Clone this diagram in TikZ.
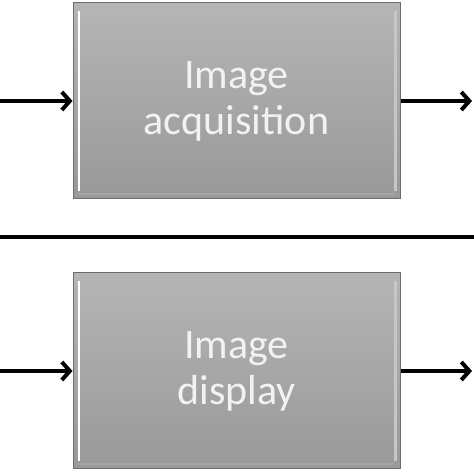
\documentclass[tikz,border=0pt]{standalone}
\usepackage{fontspec}
\setmainfont{Carlito}
\usetikzlibrary{arrows.meta,positioning}

\begin{document}
\begin{tikzpicture}[x=1pt,y=1pt,-{Straight Barb[length=8pt,width=18pt]},line width=4pt,node distance=270pt,
  block/.style={rectangle,draw=gray!85!black,line width=1pt,top color=black!29,bottom color=black!40,
    minimum width=327pt,minimum height=196pt,text=white!95!black,align=center,
    font=\fontsize{42}{46}\selectfont,
    path picture={
      \draw[-,white,line width=2.5pt] ([xshift=6pt,yshift=-8pt]path picture bounding box.north west) -- ([xshift=6pt,yshift=8pt]path picture bounding box.south west);
      \draw[-,white!55!gray,line width=3pt] ([xshift=-5pt,yshift=-8pt]path picture bounding box.north east) -- ([xshift=-5pt,yshift=8pt]path picture bounding box.south east);
      \draw[-,black!35,line width=2pt] ([xshift=6pt,yshift=5pt]path picture bounding box.south west) -- ([xshift=-6pt,yshift=5pt]path picture bounding box.south east);
    }}]

  \useasboundingbox (0,0) rectangle (474,474);

  \node[block] (acq) at (236.5,373) {Image\\acquisition};
  \node[block] (disp) [below of=acq] {Image\\display};

  % in and out
  \coordinate (acqin) at (0,373);
  \coordinate (acqout) at (472,373);
  \coordinate (dispin) at (0,103);
  \coordinate (dispout) at (472,103);

  \draw (acqin) -- (acq.west);
  \draw (acq.east) -- (acqout);
  \draw (dispin) -- (disp.west);
  \draw (disp.east) -- (dispout);

  % divider
  \coordinate (divl) at (0,237);
  \coordinate (divr) at (474,237);
  \draw[-] (divl) -- (divr);
\end{tikzpicture}
\end{document}
